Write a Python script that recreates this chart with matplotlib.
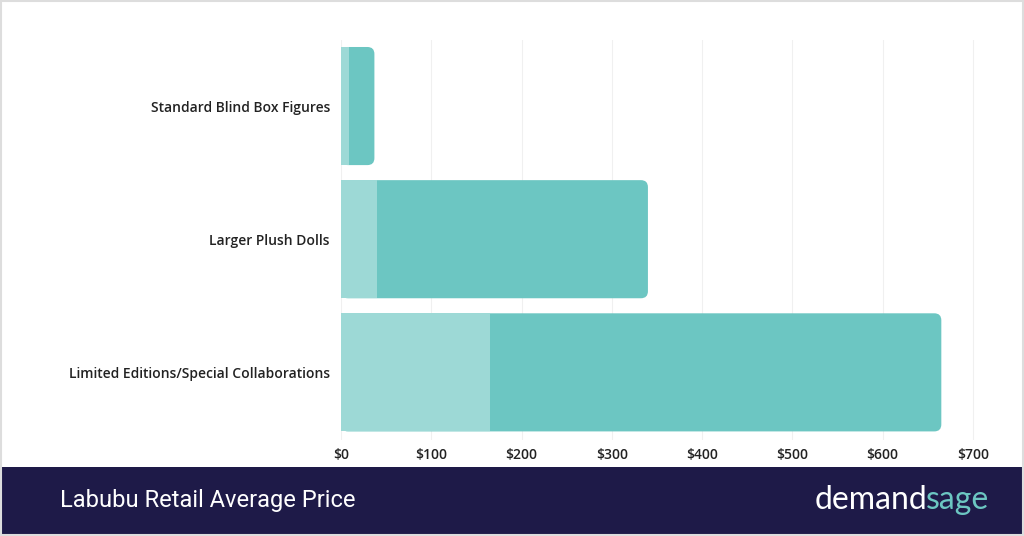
import matplotlib.pyplot as plt
from matplotlib.patches import FancyBboxPatch, Rectangle

# Labubu retail price ranges (USD)
categories = ["Standard Blind Box Figures", "Larger Plush Dolls",
              "Limited Editions/Special Collaborations"]
min_price = [9, 40, 165]
max_price = [37, 340, 665]
xticks = [0, 100, 200, 300, 400, 500, 600, 700]

light = "#9dd9d6"
dark = "#6cc6c2"
navy = "#1e1a48"
text_col = "#222222"

plt.rcParams['font.family'] = ['Open Sans', 'DejaVu Sans']

fig = plt.figure(figsize=(10.24, 5.36), dpi=100)
fig.patch.set_facecolor("white")

ax = fig.add_axes([341 / 1024, 1 - 440 / 536, (1000 - 341) / 1024, (440 - 40) / 536])
ax.set_xlim(0, 730)
ax.set_ylim(2.508, -0.496)

bar_h = 0.887
# pixel -> data conversion for rounded corners
px_x = 730 / (1000 - 341)
px_y = 3.004 / 400
for i, (lo, hi) in enumerate(zip(min_price, max_price)):
    r = 7 * px_x
    box = FancyBboxPatch((0, i - bar_h / 2), hi, bar_h,
                         boxstyle=f"round,pad=0,rounding_size={r}",
                         mutation_aspect=px_y / px_x,
                         facecolor=dark, edgecolor="none", zorder=2)
    ax.add_patch(box)
    ax.barh(i, lo, height=bar_h, color=light, zorder=3)

ax.set_yticks(range(len(categories)))
ax.set_yticklabels(categories, fontsize=10, fontweight='semibold', color=text_col)
ax.set_xticks(xticks)
ax.set_xticklabels([f"${v}" for v in xticks], fontsize=10, fontweight='semibold',
                   color=text_col)
ax.tick_params(length=0, axis='y', pad=8)
ax.tick_params(length=0, axis='x', pad=6)
ax.grid(axis='x', color="#f0f0f0", linewidth=0.8, zorder=0)
ax.set_axisbelow(True)
for s in ax.spines.values():
    s.set_visible(False)

# footer band
fig.patches.append(Rectangle((0, 0), 1, 69 / 536, transform=fig.transFigure,
                             facecolor=navy, edgecolor="none", zorder=0))
fig.text(60 / 1024, 35 / 536, "Labubu Retail Average Price", color="white",
         fontsize=17, va="center", ha="left", family=['Roboto', 'DejaVu Sans'])
t1 = fig.text(815 / 1024, 36 / 536, "demand", color="white", fontsize=23,
              va="center", ha="left", family=['Lato', 'DejaVu Sans'])
fig.canvas.draw()
bb = t1.get_window_extent()
fig.text((bb.x1 - 2) / 1024, 36 / 536, "sage", color=dark, fontsize=23,
         va="center", ha="left", family=['Lato', 'DejaVu Sans'])

# thin border
fig.patches.append(Rectangle((0.001, 0.001), 0.998, 0.998, transform=fig.transFigure,
                             facecolor="none", edgecolor="#dddddd", linewidth=1.5,
                             zorder=5))

fig.savefig("out.png", dpi=100)
